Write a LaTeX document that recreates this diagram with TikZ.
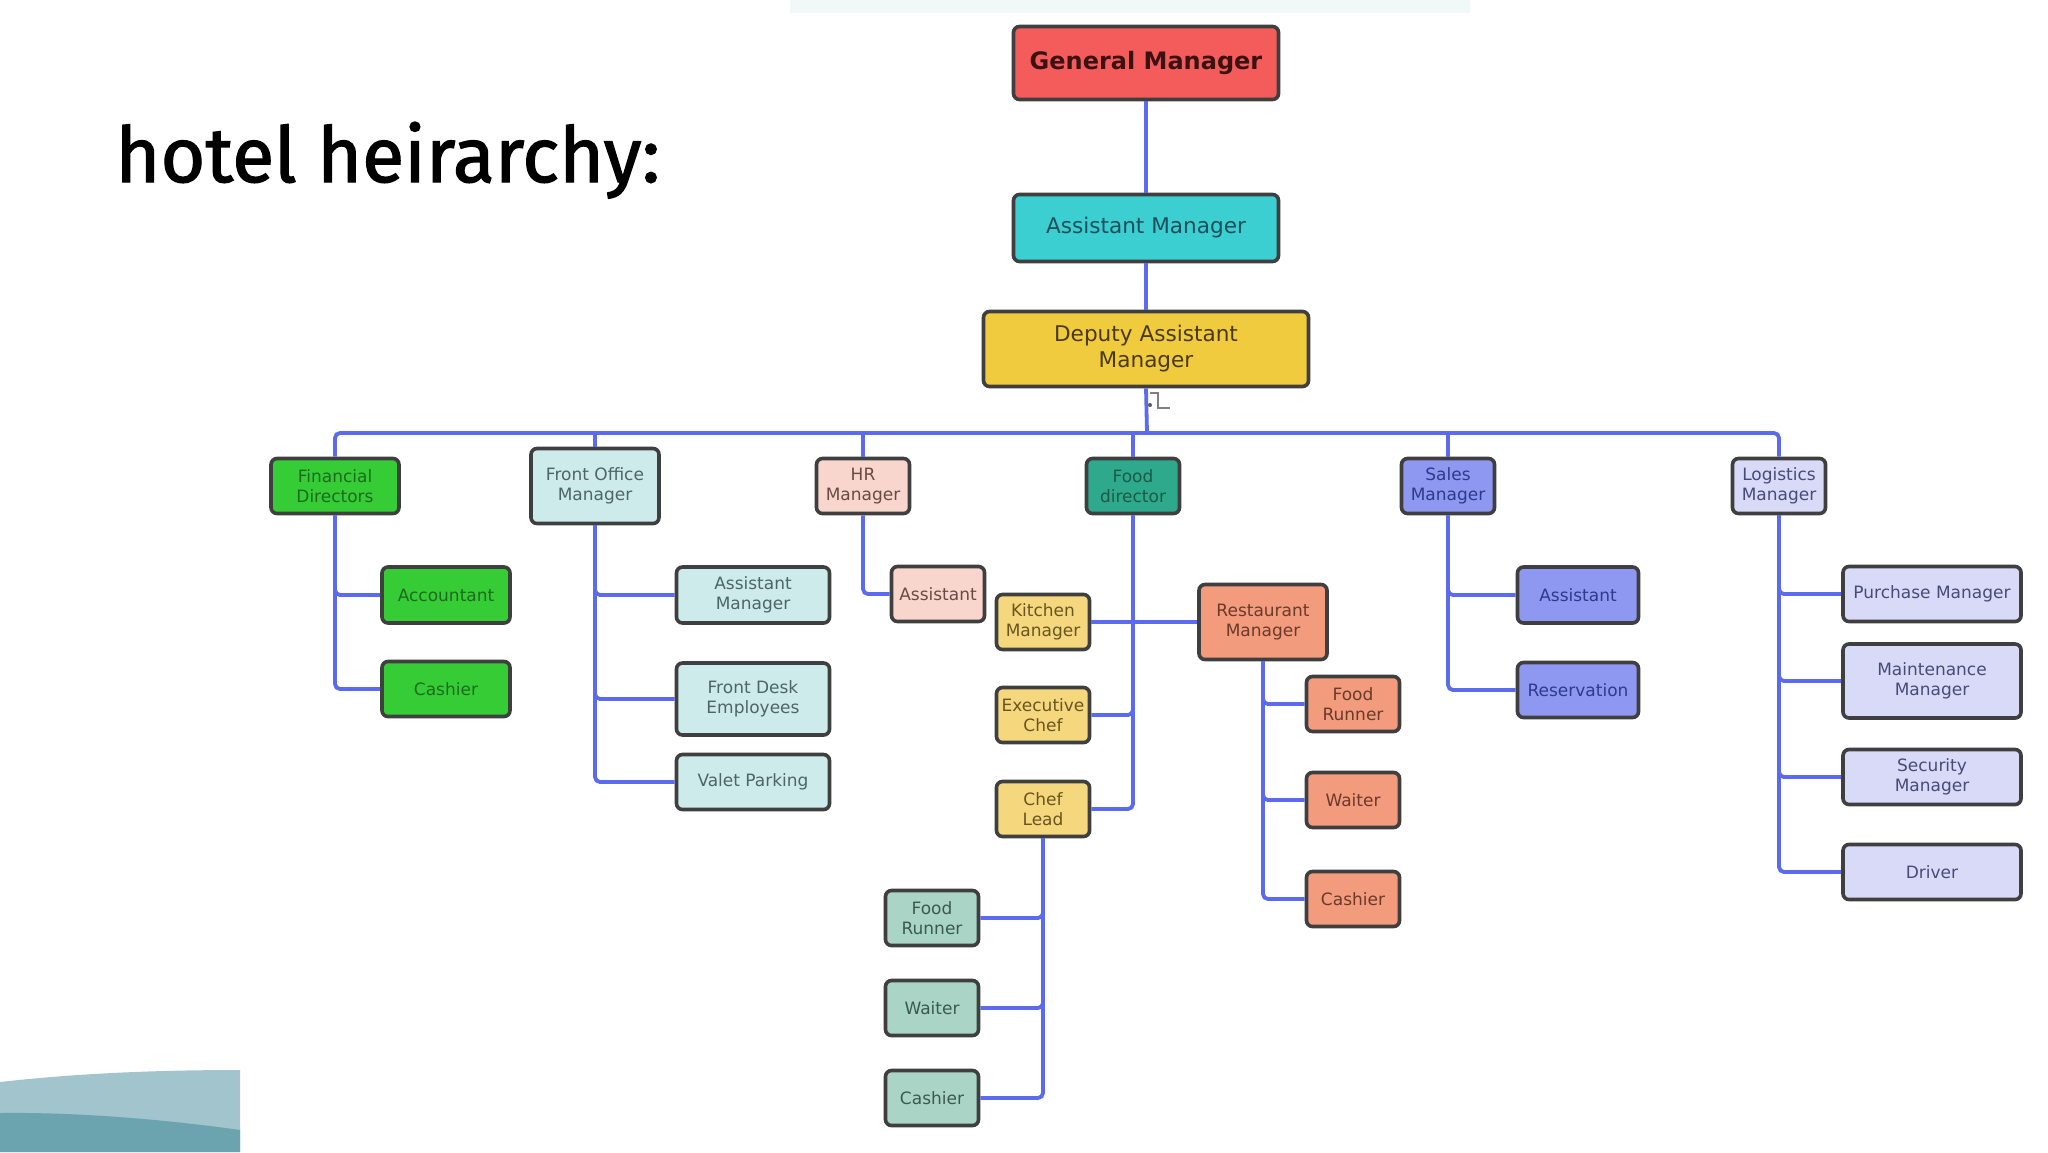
\documentclass[tikz,border=0pt]{standalone}
\usepackage{fontspec}
\setmainfont{DejaVu Sans}
\newfontfamily\titlefont[FakeBold=1.6]{Fira Sans}
\usetikzlibrary{calc}
\definecolor{conn}{HTML}{5A6BEF}
\definecolor{boxborder}{HTML}{3F3F3F}
\definecolor{cGM}{HTML}{F45C5C}\definecolor{tGM}{HTML}{3A1212}
\definecolor{cAM}{HTML}{3BCFD1}\definecolor{tAM}{HTML}{1F4F5C}
\definecolor{cDAM}{HTML}{F0CB3E}\definecolor{tDAM}{HTML}{4A3A12}
\definecolor{cFin}{HTML}{35CC35}\definecolor{tFin}{HTML}{1F6A1F}
\definecolor{cFO}{HTML}{CDEBEB}\definecolor{tFO}{HTML}{4C6666}
\definecolor{cHR}{HTML}{F8D6CD}\definecolor{tHR}{HTML}{6A4A44}
\definecolor{cFood}{HTML}{2EA98C}\definecolor{tFood}{HTML}{1B5A4A}
\definecolor{cKit}{HTML}{F5D77E}\definecolor{tKit}{HTML}{6A5520}
\definecolor{cRest}{HTML}{F39B7D}\definecolor{tRest}{HTML}{6A3A2A}
\definecolor{cTeal}{HTML}{A9D4C6}\definecolor{tTeal}{HTML}{3A5A50}
\definecolor{cSales}{HTML}{8E98F0}\definecolor{tSales}{HTML}{2E3A8A}
\definecolor{cLog}{HTML}{D8DAF8}\definecolor{tLog}{HTML}{4A4A7A}
\definecolor{decoLight}{HTML}{A2C4CC}
\definecolor{decoDark}{HTML}{6BA4AF}
\definecolor{topband}{HTML}{F0F8F8}
\begin{document}
\begin{tikzpicture}[x=0.5pt,y=-0.5pt,
  box/.style={draw=boxborder, line width=1.8pt, rounded corners=3pt, align=center,
    inner sep=0pt, font=\fontsize{8.5}{10}\selectfont},
  link/.style={draw=conn, line width=1.9pt, rounded corners=2.5pt},
  sqsize/.style={minimum width=46.5pt, minimum height=27.5pt},
  gmbox/.style={box, fill=cGM, text=tGM, font=\fontsize{12}{14}\selectfont\bfseries},
  ambox/.style={box, fill=cAM, text=tAM, font=\fontsize{10.8}{13}\selectfont},
  dambox/.style={box, fill=cDAM, text=tDAM, font=\fontsize{10.8}{13}\selectfont},
  finbox/.style={box, fill=cFin, text=tFin},
  fobox/.style={box, fill=cFO, text=tFO},
  hrbox/.style={box, fill=cHR, text=tHR},
  foodbox/.style={box, fill=cFood, text=tFood},
  kitbox/.style={box, fill=cKit, text=tKit},
  restbox/.style={box, fill=cRest, text=tRest},
  tealbox/.style={box, fill=cTeal, text=tTeal},
  salesbox/.style={box, fill=cSales, text=tSales},
  logbox/.style={box, fill=cLog, text=tLog}]
\useasboundingbox (0,0) rectangle (2048,1152);
\fill[white] (0,0) rectangle (2048,1152);
% top faint band
\fill[topband] (790,0) rectangle (1470,13);
% decoration bottom-left
\fill[decoLight] (0,1082) .. controls (80,1073) and (160,1070) .. (240,1070) -- (240,1152) -- (0,1152) -- cycle;
\fill[decoDark] (0,1113) .. controls (80,1112) and (170,1120) .. (240,1130) -- (240,1152) -- (0,1152) -- cycle;
% title
\node[anchor=base west, inner sep=0pt, font=\titlefont\fontsize{38.5}{44}\selectfont] (title) at (115,182) {hotel heirarchy:};

% top chain
\node[gmbox, minimum width=132.5pt, minimum height=36.5pt] (gm) at (1146,63) {General Manager};
\node[ambox, minimum width=132.5pt, minimum height=33.5pt] (am) at (1146,228) {Assistant Manager};
\node[dambox, minimum width=162.5pt, minimum height=37.5pt] (dam) at (1146,349) {Deputy Assistant\\Manager};

% level 1
\node[finbox, minimum width=64pt, minimum height=27.5pt] (fin) at (335,486) {Financial\\Directors};
\node[fobox, minimum width=64pt, minimum height=37.5pt] (fo) at (595,486) {Front Office\\Manager};
\node[hrbox, sqsize] (hr) at (863,486) {HR\\Manager};
\node[foodbox, sqsize] (food) at (1133,486) {Food\\director};
\node[salesbox, sqsize] (sales) at (1448,486) {Sales\\Manager};
\node[logbox, sqsize] (log) at (1779,486) {Logistics\\Manager};

% financial children
\node[finbox, minimum width=64pt, minimum height=28pt] (acc) at (446,595) {Accountant};
\node[finbox, minimum width=64pt, minimum height=27.5pt] (cashf) at (446,689) {Cashier};

% front office children
\node[fobox, minimum width=76.5pt, minimum height=28pt] (foam) at (753,595) {Assistant\\Manager};
\node[fobox, minimum width=76.5pt, minimum height=36pt] (fde) at (753,699) {Front Desk\\Employees};
\node[fobox, minimum width=76.5pt, minimum height=27.5pt] (valet) at (753,782) {Valet Parking};

% HR child
\node[hrbox, sqsize] (hra) at (938,594) {Assistant};

% food children
\node[kitbox, sqsize] (kitch) at (1043,622) {Kitchen\\Manager};
\node[kitbox, sqsize] (exec) at (1043,715) {Executive\\Chef};
\node[kitbox, sqsize] (chefl) at (1043,809) {Chef\\Lead};
\node[restbox, minimum width=64pt, minimum height=37.5pt] (rest) at (1263,622) {Restaurant\\Manager};

% restaurant children
\node[restbox, sqsize] (rfr) at (1353,704) {Food\\Runner};
\node[restbox, sqsize] (rwait) at (1353,800) {Waiter};
\node[restbox, sqsize] (rcash) at (1353,899) {Cashier};

% chef lead children
\node[tealbox, sqsize] (tfr) at (932,918) {Food\\Runner};
\node[tealbox, sqsize] (twait) at (932,1008) {Waiter};
\node[tealbox, sqsize] (tcash) at (932,1098) {Cashier};

% sales children
\node[salesbox, minimum width=60.5pt, minimum height=28pt] (sa) at (1578,595) {Assistant};
\node[salesbox, minimum width=60.5pt, minimum height=27.5pt] (resv) at (1578,690) {Reservation};

% logistics children
\node[logbox, minimum width=89pt, minimum height=27.5pt] (pm) at (1932,594) {Purchase Manager};
\node[logbox, minimum width=89pt, minimum height=37pt] (mm) at (1932,681) {Maintenance\\Manager};
\node[logbox, minimum width=89pt, minimum height=27.5pt] (sm) at (1932,777) {Security\\Manager};
\node[logbox, minimum width=89pt, minimum height=27.5pt] (drv) at (1932,872) {Driver};

% connectors
\coordinate (bus) at (1147,433);
\path[link] (gm) -- (am);
\path[link] (am) -- (dam);
\path[link] (dam.south) -- (bus);
\path[link] (fin.north) -- (fin.north |- bus) -- (log.north |- bus) -- (log.north);
\path[link] (fo.north) -- (fo.north |- bus);
\path[link] (hr.north) -- (hr.north |- bus);
\path[link] (food.north) -- (food.north |- bus);
\path[link] (sales.north) -- (sales.north |- bus);

\path[link] (fin.south) |- (acc.west);
\path[link] (fin.south) |- (cashf.west);
\path[link] (fo.south) |- (foam.west);
\path[link] (fo.south) |- (fde.west);
\path[link] (fo.south) |- (valet.west);
\path[link] (hr.south) |- (hra.west);
\path[link] (kitch.east) -- (rest.west);
\path[link] (food.south) |- (exec.east);
\path[link] (food.south) |- (chefl.east);
\path[link] (rest.south) |- (rfr.west);
\path[link] (rest.south) |- (rwait.west);
\path[link] (rest.south) |- (rcash.west);
\path[link] (chefl.south) |- (tfr.east);
\path[link] (chefl.south) |- (twait.east);
\path[link] (chefl.south) |- (tcash.east);
\path[link] (sales.south) |- (sa.west);
\path[link] (sales.south) |- (resv.west);
\path[link] (log.south) |- (pm.west);
\path[link] (log.south) |- (mm.west);
\path[link] (log.south) |- (sm.west);
\path[link] (log.south) |- (drv.west);

% small cursor artifact under deputy box
\coordinate (cur) at (1150,393);
\draw[gray, line width=0.6pt] (cur) -- ++(8,0) -- ++(0,15) -- ++(12,0);
\fill[gray!70!black] ($(cur)+(0,12)$) circle (2);
\end{tikzpicture}
\end{document}
